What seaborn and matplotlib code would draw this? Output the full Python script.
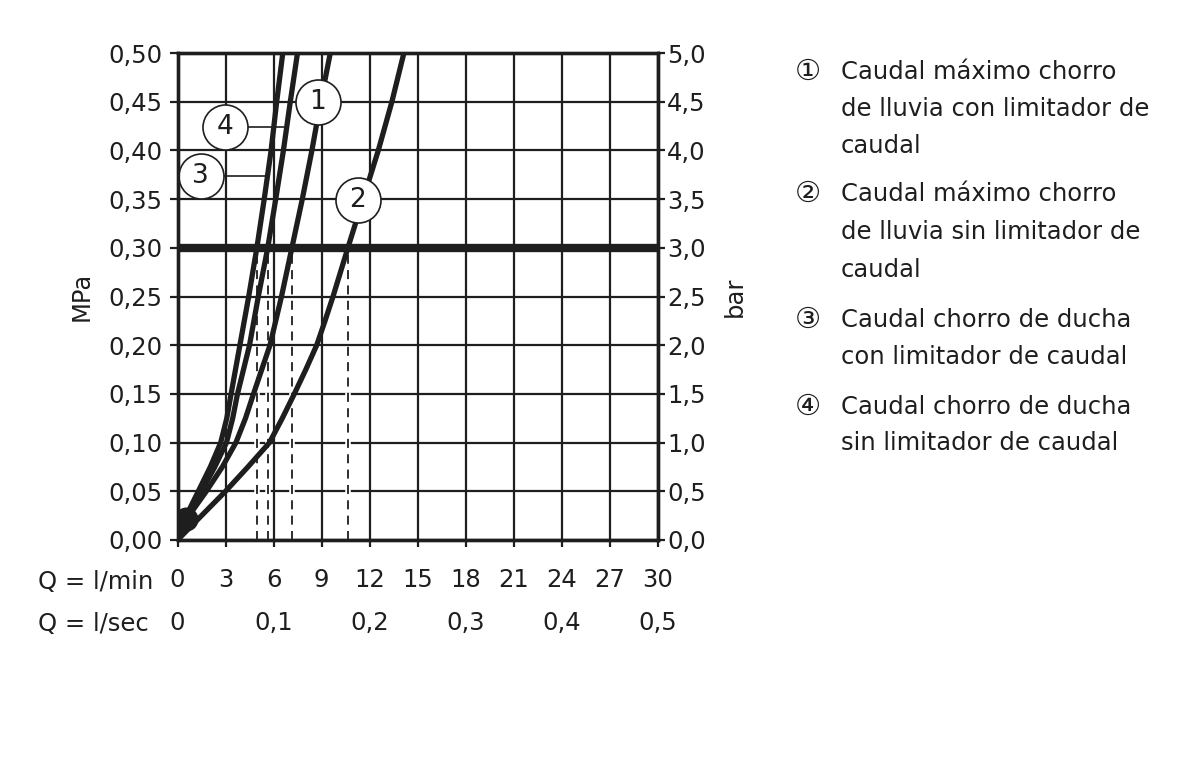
import numpy as np
import matplotlib
matplotlib.use("Agg")
import matplotlib.pyplot as plt
import matplotlib.patheffects as pe
import seaborn as sns

sns.set_theme(style="white")
plt.rcParams["font.family"] = ["DejaVu Sans", "Noto Sans CJK JP"]

INK = "#1e1e1e"
FS = 17.5

# ── datos ───────────────────────────────────────────────────────────────────
# presión (MPa) para las curvas 1, 3 y 4
p_std = [0.003, 0.02, 0.05, 0.075, 0.10, 0.125, 0.15, 0.20, 0.25, 0.30, 0.35, 0.40, 0.45, 0.50]
q_curva1 = [0.0, 0.5, 1.8, 2.8, 3.65, 4.25, 4.75, 5.78, 6.5, 7.15, 7.8, 8.4, 8.95, 9.55]
q_curva3 = [0.0, 0.4, 1.3, 2.05, 2.7, 3.08, 3.35, 3.9, 4.45, 4.96, 5.42, 5.85, 6.2, 6.58]
q_curva4 = [0.0, 0.45, 1.5, 2.33, 3.06, 3.45, 3.75, 4.5, 5.05, 5.64, 6.14, 6.62, 7.05, 7.5]

# curva 2 (sin limitador, lluvia)
p_curva2 = [0.0, 0.025, 0.05, 0.075, 0.10, 0.125, 0.15, 0.175, 0.20, 0.225, 0.25, 0.30,
            0.35, 0.40, 0.45, 0.50]
q_curva2 = [0.0, 1.5, 3.0, 4.4, 5.75, 6.55, 7.3, 8.02, 8.7, 9.22, 9.72, 10.65,
            11.6, 12.55, 13.4, 14.15]

# caudal a 0,3 MPa (líneas discontinuas)
p_ref = 0.30
q_a_ref = [4.96, 5.64, 7.15, 10.65]

# punto de inicio común
q_inicio = [0.5]
p_inicio = [0.022]

# ejes
q_ticks = list(range(0, 31, 3))
q_labels = [str(v) for v in q_ticks]
lsec_ticks = [0.0, 0.1, 0.2, 0.3, 0.4, 0.5]
lsec_labels = ["0", "0,1", "0,2", "0,3", "0,4", "0,5"]
mpa_ticks = [0.00, 0.05, 0.10, 0.15, 0.20, 0.25, 0.30, 0.35, 0.40, 0.45, 0.50]
mpa_labels = ["0,00", "0,05", "0,10", "0,15", "0,20", "0,25", "0,30", "0,35", "0,40", "0,45", "0,50"]
bar_ticks = [0.0, 0.5, 1.0, 1.5, 2.0, 2.5, 3.0, 3.5, 4.0, 4.5, 5.0]
bar_labels = ["0,0", "0,5", "1,0", "1,5", "2,0", "2,5", "3,0", "3,5", "4,0", "4,5", "5,0"]

# etiquetas circulares de las curvas
etiquetas = ["1", "2", "3", "4"]
etq_q = [8.78, 11.28, 1.45, 2.97]
etq_p = [0.4497, 0.349, 0.3737, 0.4237]
# líneas guía de las etiquetas 3 y 4 (desde la etiqueta hasta la curva)
guia_q_fin = [None, None, 5.5, 6.85]

leyenda_num = ["\u2460", "\u2461", "\u2462", "\u2463"]
leyenda_txt = [
    ["Caudal máximo chorro", "de lluvia con limitador de", "caudal"],
    ["Caudal máximo chorro", "de lluvia sin limitador de", "caudal"],
    ["Caudal chorro de ducha", "con limitador de caudal"],
    ["Caudal chorro de ducha", "sin limitador de caudal"],
]
leyenda_y = [[72, 109, 146], [194, 232, 270], [320, 357], [407, 443]]

# ── figura ──────────────────────────────────────────────────────────────────
W, H = 1200, 765
fig = plt.figure(figsize=(W / 100, H / 100), dpi=100)
ax = fig.add_axes([177.5 / W, 1 - 540 / H, 480 / W, 487 / H])

ax.set_xlim(0, 30)
ax.set_ylim(0, 0.5)
ax.set_xticks(q_ticks, labels=q_labels)
ax.set_yticks(mpa_ticks, labels=mpa_labels)
ax.grid(True, color=INK, lw=1.6)
ax.set_axisbelow(True)
for s in ax.spines.values():
    s.set_color(INK)
    s.set_linewidth(2.4)
ax.tick_params(axis="y", direction="out", length=6, width=1.6, pad=5,
               labelsize=FS, colors=INK, left=True)
ax.tick_params(axis="x", direction="out", length=5, width=1.6, pad=15,
               labelsize=FS, colors=INK, bottom=True)
ax.set_ylabel("MPa", fontsize=FS, color=INK, labelpad=10)
ax.set_xlabel("")

# línea de 0,3 MPa y caudales de referencia
ax.axhline(p_ref, color=INK, lw=6, zorder=3, solid_capstyle="butt")
ax.vlines(q_a_ref, 0, p_ref, colors=INK, lw=1.3, linestyles=(0, (5, 3.5)), zorder=2,
          path_effects=[pe.withStroke(linewidth=4, foreground="white")])

# curvas
for q, p in [(q_curva1, p_std), (q_curva3, p_std), (q_curva4, p_std), (q_curva2, p_curva2)]:
    sns.lineplot(x=q, y=p, ax=ax, sort=False, estimator=None, color=INK, lw=3.8,
                 zorder=4, clip_on=True)
ax.scatter(q_inicio, p_inicio, s=300, color=INK, zorder=4, lw=0)

# etiquetas circulares
for txt, q, p, qf in zip(etiquetas, etq_q, etq_p, guia_q_fin):
    if qf is not None:
        ax.plot([q, qf], [p, p], color=INK, lw=1.2, zorder=5)
    ax.scatter([q], [p], s=1050, facecolor="white", edgecolor=INK, lw=1.2,
               zorder=6, clip_on=False)
    ax.text(q, p, txt, ha="center", va="center", fontsize=19, color=INK, zorder=7)

# eje derecho en bar
ax2 = ax.twinx()
ax2.set_ylim(0, 5)
ax2.set_yticks(bar_ticks, labels=bar_labels)
ax2.grid(False)
for s in ax2.spines.values():
    s.set_color(INK)
    s.set_linewidth(2.4)
ax2.tick_params(axis="y", direction="out", length=5, width=1.6, pad=2,
                labelsize=FS, colors=INK, right=True)
ax2.set_ylabel("bar", fontsize=FS, color=INK, labelpad=12)

# segunda fila: l/sec
sec = ax.secondary_xaxis(-0.145, functions=(lambda q: q / 60, lambda s: s * 60))
sec.set_xticks(lsec_ticks, labels=lsec_labels)
sec.tick_params(length=0, pad=0, labelsize=FS, colors=INK)
sec.spines["bottom"].set_visible(False)

ax.text(-0.2906, -0.086, "Q = l/min", transform=ax.transAxes, ha="left", va="center",
        fontsize=FS, color=INK)
ax.text(-0.2906, -0.172, "Q = l/sec", transform=ax.transAxes, ha="left", va="center",
        fontsize=FS, color=INK)

# leyenda a la derecha
for num, lineas, ys in zip(leyenda_num, leyenda_txt, leyenda_y):
    fig.text(808 / W, 1 - ys[0] / H, num, ha="center", va="center", fontsize=21, color=INK)
    for linea, y in zip(lineas, ys):
        fig.text(841 / W, 1 - y / H, linea, ha="left", va="center", fontsize=FS, color=INK)

fig.savefig("out.png", dpi=100, facecolor="white")
